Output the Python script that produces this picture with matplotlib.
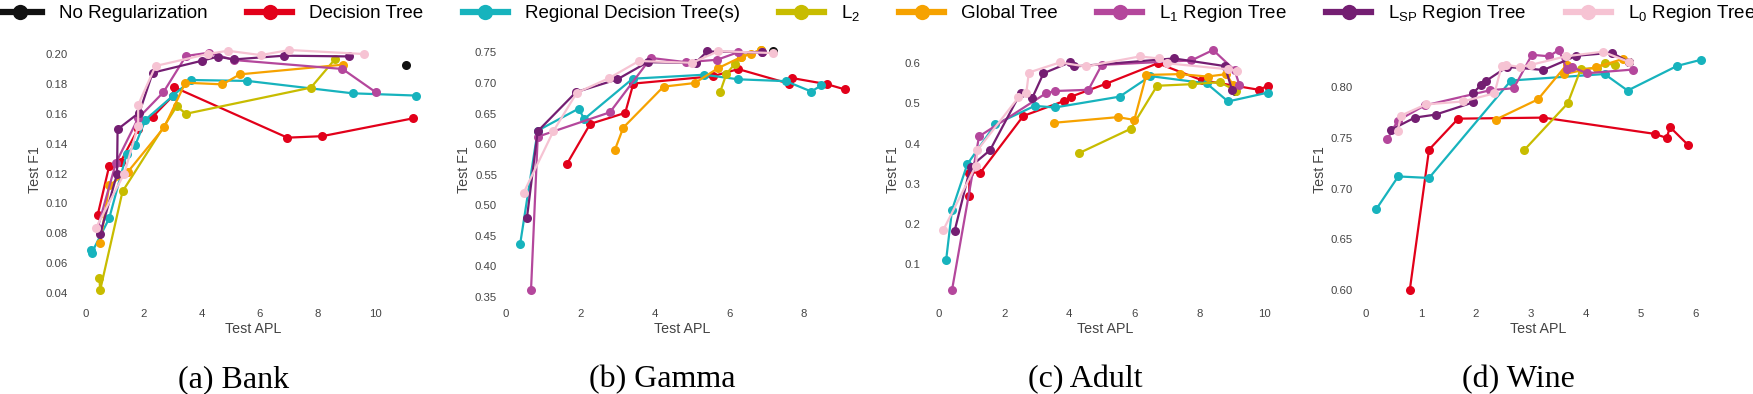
import numpy as np
import matplotlib
matplotlib.use("Agg")
import matplotlib.pyplot as plt
from matplotlib.lines import Line2D
from matplotlib import ticker

plt.rcParams['font.family'] = ['Liberation Sans', 'DejaVu Sans']
plt.rcParams['mathtext.default'] = 'regular'

methods = ['No Regularization', 'Decision Tree', 'Regional Decision Tree(s)', 'L$_2$',
           'Global Tree', 'L$_1$ Region Tree', 'L$_{SP}$ Region Tree', 'L$_0$ Region Tree']
colors = ['#111111', '#e2001a', '#17b3bd', '#c8bc00', '#f6a200', '#b4479c', '#741e72', '#f6c3d3']

# ---- (a) Bank ----
bank_none_x = [11.03]
bank_none_y = [0.1926]
bank_dt_x = [0.40, 0.80, 1.20, 1.80, 2.30, 3.00, 3.02, 6.95, 8.15, 11.30]
bank_dt_y = [0.092, 0.125, 0.128, 0.150, 0.158, 0.172, 0.178, 0.144, 0.145, 0.157]
bank_rdt_x = [0.18, 0.20, 0.80, 1.40, 1.70, 2.05, 3.00, 3.62, 5.57, 9.20, 11.38]
bank_rdt_y = [0.069, 0.067, 0.090, 0.133, 0.139, 0.156, 0.172, 0.1826, 0.182, 0.1737, 0.1722]
bank_l2_x = [0.46, 0.49, 1.26, 3.13, 3.45, 7.76, 8.60]
bank_l2_y = [0.050, 0.042, 0.108, 0.165, 0.160, 0.1775, 0.1967]
bank_gt_x = [0.49, 0.80, 1.44, 2.70, 3.43, 4.71, 5.31, 8.88]
bank_gt_y = [0.0735, 0.112, 0.121, 0.151, 0.1808, 0.1797, 0.1864, 0.1929]
bank_l1_x = [0.40, 1.03, 1.80, 2.67, 3.45, 4.25, 5.10, 8.85, 10.00]
bank_l1_y = [0.0835, 0.127, 0.157, 0.1744, 0.1987, 0.2009, 0.196, 0.190, 0.1744]
bank_lsp_x = [0.49, 1.07, 1.09, 1.84, 2.30, 4.00, 4.54, 5.11, 6.84, 9.08]
bank_lsp_y = [0.0797, 0.1196, 0.1496, 0.1608, 0.1875, 0.1955, 0.1982, 0.1964, 0.1989, 0.1984]
bank_l0_x = [0.34, 1.32, 1.80, 1.80, 2.40, 4.20, 4.89, 6.03, 7.02, 9.60]
bank_l0_y = [0.0835, 0.120, 0.152, 0.166, 0.192, 0.200, 0.2022, 0.1993, 0.2027, 0.200]

# ---- (b) Gamma ----
gamma_none_x = [7.17]
gamma_none_y = [0.7516]
gamma_dt_x = [1.64, 2.26, 3.20, 3.42, 5.55, 6.24, 7.60, 7.69, 8.62, 9.10]
gamma_dt_y = [0.568, 0.633, 0.651, 0.699, 0.711, 0.7227, 0.699, 0.708, 0.698, 0.6895]
gamma_rdt_x = [0.38, 0.85, 1.95, 2.10, 3.40, 5.32, 6.24, 7.52, 8.20, 8.47]
gamma_rdt_y = [0.437, 0.622, 0.658, 0.641, 0.707, 0.7135, 0.706, 0.703, 0.686, 0.696]
gamma_l2_x = [5.75, 5.92, 6.15, 6.30, 6.85]
gamma_l2_y = [0.685, 0.715, 0.7315, 0.742, 0.754]
gamma_gt_x = [2.92, 3.15, 4.23, 5.07, 5.70, 6.30, 6.57, 6.84]
gamma_gt_y = [0.590, 0.627, 0.694, 0.6999, 0.7244, 0.742, 0.748, 0.754]
gamma_l1_x = [0.67, 0.85, 2.79, 3.89, 4.84, 5.67, 6.24, 6.88]
gamma_l1_y = [0.361, 0.612, 0.652, 0.741, 0.734, 0.738, 0.7505, 0.7505]
gamma_lsp_x = [0.56, 0.85, 1.88, 2.99, 3.80, 5.09, 5.40, 6.88]
gamma_lsp_y = [0.479, 0.621, 0.685, 0.706, 0.734, 0.733, 0.7516, 0.750]
gamma_l0_x = [0.47, 1.27, 1.90, 2.77, 3.57, 5.00, 5.70, 7.17]
gamma_l0_y = [0.520, 0.621, 0.684, 0.708, 0.736, 0.733, 0.752, 0.749]

# ---- (c) Adult ----
adult_none_x = [9.08]
adult_none_y = [0.531]
adult_dt_x = [0.93, 0.93, 1.27, 2.59, 3.84, 4.06, 5.13, 6.72, 8.07, 9.83, 10.10]
adult_dt_y = [0.270, 0.328, 0.328, 0.469, 0.506, 0.517, 0.549, 0.600, 0.558, 0.534, 0.544]
adult_rdt_x = [0.22, 0.40, 0.87, 1.73, 2.94, 3.56, 5.55, 6.49, 8.22, 8.88, 10.10]
adult_rdt_y = [0.111, 0.235, 0.349, 0.448, 0.494, 0.490, 0.517, 0.568, 0.550, 0.505, 0.527]
adult_l2_x = [4.29, 5.89, 6.70, 7.77, 8.63, 9.13]
adult_l2_y = [0.376, 0.437, 0.544, 0.548, 0.553, 0.531]
adult_gt_x = [3.54, 5.50, 6.00, 6.37, 7.39, 8.25, 8.83, 9.03]
adult_gt_y = [0.452, 0.466, 0.459, 0.571, 0.573, 0.567, 0.573, 0.546]
adult_l1_x = [0.40, 1.23, 3.28, 3.56, 4.59, 5.00, 7.75, 8.42, 9.08, 9.23]
adult_l1_y = [0.036, 0.418, 0.525, 0.531, 0.534, 0.596, 0.607, 0.633, 0.583, 0.546]
adult_lsp_x = [0.48, 0.97, 1.57, 2.51, 2.86, 3.21, 4.01, 4.16, 7.22, 8.78, 9.00]
adult_lsp_y = [0.183, 0.343, 0.384, 0.527, 0.513, 0.575, 0.602, 0.592, 0.612, 0.593, 0.534]
adult_l0_x = [0.13, 1.13, 1.18, 2.44, 2.68, 2.76, 3.71, 4.51, 6.17, 6.75, 7.00, 8.88, 9.15]
adult_l0_y = [0.185, 0.345, 0.384, 0.515, 0.525, 0.577, 0.602, 0.592, 0.617, 0.612, 0.600, 0.585, 0.582]

# ---- (d) Wine ----
wine_none_x = [4.78]
wine_none_y = [0.8246]
wine_dt_x = [0.80, 1.15, 1.68, 3.23, 5.25, 5.47, 5.53, 5.86]
wine_dt_y = [0.600, 0.7384, 0.769, 0.770, 0.754, 0.750, 0.7607, 0.743]
wine_rdt_x = [0.19, 0.59, 1.15, 2.64, 4.34, 4.76, 5.66, 6.09]
wine_rdt_y = [0.6797, 0.712, 0.7105, 0.8066, 0.813, 0.7967, 0.821, 0.827]
wine_l2_x = [2.88, 3.67, 3.91, 4.20, 4.34, 4.53]
wine_l2_y = [0.738, 0.784, 0.818, 0.819, 0.8236, 0.822]
wine_gt_x = [2.36, 3.13, 3.65, 3.61, 4.19, 4.68]
wine_gt_y = [0.768, 0.788, 0.822, 0.813, 0.8197, 0.828]
wine_l1_x = [0.39, 0.58, 1.07, 2.26, 2.69, 3.02, 3.33, 3.51, 3.65, 3.74, 4.02, 4.85]
wine_l1_y = [0.7485, 0.767, 0.782, 0.797, 0.799, 0.832, 0.8305, 0.8367, 0.818, 0.820, 0.8138, 0.8174]
wine_lsp_x = [0.46, 0.89, 1.27, 1.95, 1.95, 2.10, 2.18, 2.57, 3.23, 3.83, 4.47, 4.78]
wine_lsp_y = [0.758, 0.770, 0.773, 0.785, 0.794, 0.8026, 0.806, 0.820, 0.817, 0.831, 0.834, 0.825]
wine_l0_x = [0.58, 0.64, 1.09, 1.77, 2.34, 2.47, 2.55, 2.80, 3.00, 3.64, 4.31, 4.78]
wine_l0_y = [0.757, 0.772, 0.783, 0.786, 0.794, 0.821, 0.822, 0.820, 0.822, 0.8305, 0.835, 0.825]

panels = [
    ('(a) Bank', [(bank_none_x, bank_none_y), (bank_dt_x, bank_dt_y), (bank_rdt_x, bank_rdt_y),
                  (bank_l2_x, bank_l2_y), (bank_gt_x, bank_gt_y), (bank_l1_x, bank_l1_y),
                  (bank_lsp_x, bank_lsp_y), (bank_l0_x, bank_l0_y)], 2, 0.02),
    ('(b) Gamma', [(gamma_none_x, gamma_none_y), (gamma_dt_x, gamma_dt_y), (gamma_rdt_x, gamma_rdt_y),
                   (gamma_l2_x, gamma_l2_y), (gamma_gt_x, gamma_gt_y), (gamma_l1_x, gamma_l1_y),
                   (gamma_lsp_x, gamma_lsp_y), (gamma_l0_x, gamma_l0_y)], 2, 0.05),
    ('(c) Adult', [(adult_none_x, adult_none_y), (adult_dt_x, adult_dt_y), (adult_rdt_x, adult_rdt_y),
                   (adult_l2_x, adult_l2_y), (adult_gt_x, adult_gt_y), (adult_l1_x, adult_l1_y),
                   (adult_lsp_x, adult_lsp_y), (adult_l0_x, adult_l0_y)], 2, 0.1),
    ('(d) Wine', [(wine_none_x, wine_none_y), (wine_dt_x, wine_dt_y), (wine_rdt_x, wine_rdt_y),
                  (wine_l2_x, wine_l2_y), (wine_gt_x, wine_gt_y), (wine_l1_x, wine_l1_y),
                  (wine_lsp_x, wine_lsp_y), (wine_l0_x, wine_l0_y)], 1, 0.05),
]

W, H = 1753, 394
fig = plt.figure(figsize=(W / 100, H / 100), dpi=100)

lefts = [75, 504, 927, 1360]
aw, top, bot = 357, 38, 302

for (caption, series, xstep, ystep), lft in zip(panels, lefts):
    ax = fig.add_axes([lft / W, (H - bot) / H, aw / W, (bot - top) / H])
    for (xs, ys), c in zip(series, colors):
        ax.plot(xs, ys, color=c, lw=1.6, marker='o', ms=6.5, mew=0)
    for s in ax.spines.values():
        s.set_visible(False)
    ax.xaxis.set_major_locator(ticker.MultipleLocator(xstep))
    ax.yaxis.set_major_locator(ticker.MultipleLocator(ystep))
    if ystep == 0.1:
        ax.yaxis.set_major_formatter(ticker.FormatStrFormatter('%.1f'))
    else:
        ax.yaxis.set_major_formatter(ticker.FormatStrFormatter('%.2f'))
    ax.tick_params(length=0, pad=5, labelsize=8.2, labelcolor='#444444')
    ax.set_xlabel('Test APL', fontsize=10.3, color='#444444', labelpad=2)
    ax.set_ylabel('Test F1', fontsize=10.3, color='#444444', labelpad=3)
    # caption under each panel
    fig.text((lft + aw / 2 - 20) / W, (H - 380) / H, caption, ha='center', va='center',
             fontsize=23, family=['Liberation Serif', 'DejaVu Serif'])

handles = [Line2D([], [], color=c, lw=4.5, marker='o', ms=11, mew=0) for c in colors]
fig.legend(handles, methods, loc='upper center', bbox_to_anchor=(0.5, 1.035), ncol=8,
           frameon=False, fontsize=13.5, handlelength=2.4, handletextpad=0.9,
           columnspacing=2.1)

fig.savefig('out.png', dpi=100)
